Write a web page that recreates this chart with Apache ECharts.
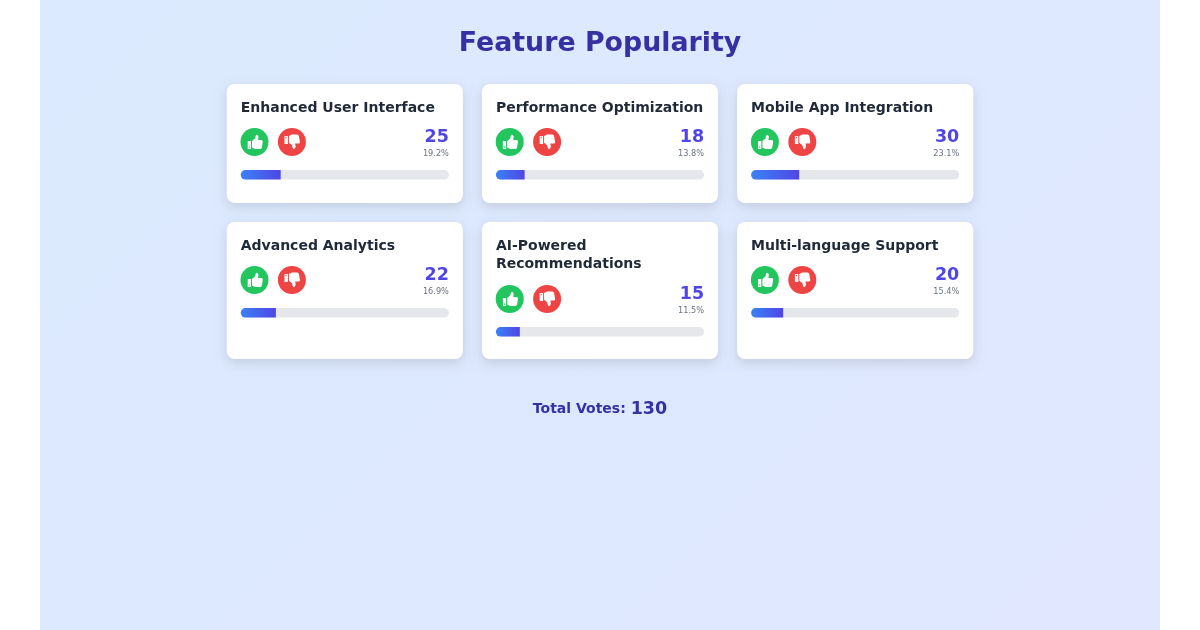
<!DOCTYPE html>
<html>
<head>
<meta charset="utf-8">
<title>Feature Popularity</title>
<script src="https://cdn.jsdelivr.net/npm/echarts@6/dist/echarts.min.js"></script>
<style>
  html, body { margin: 0; padding: 0; background: #fff; }
  #chart { width: 1200px; height: 630px; }
</style>
</head>
<body>
<div id="chart"></div>
<script>
// data
var features = ['Enhanced User Interface', 'Performance Optimization', 'Mobile App Integration',
                'Advanced Analytics', 'AI-Powered\nRecommendations', 'Multi-language Support'];
var votes = [25, 18, 30, 22, 15, 20];
var percents = [19.2, 13.8, 23.1, 16.9, 11.5, 15.4];
var totalVotes = 130;

var FONT = '"DejaVu Sans"';
var cardX = [226.7, 481.9, 737.1];
var rowY = [84, 222];
var rowH = [119, 137];
var cardW = 236.2;
var pad = 14;
var barW = 208.2;

// icon outlines, relative to the middle of the circle
var upHand = [[-2.5,-1],[0.5,-3.5],[1.2,-6.2],[2,-7.2],[3.2,-6.8],[4,-5.2],[3.5,-2],[7,-2],[8.2,-1.2],[8.2,0],[7.4,5.6],[6.6,6.8],[5.6,7],[0.5,7],[-2.5,5.4]];
var upCuff = [[-6.8,-1],[-3.6,-1],[-3.6,7],[-6.8,7]];
var downHand = [[-3,-6],[0,-7.4],[5.2,-7.4],[6.6,-6.8],[7,-6],[8,0],[7.8,1.2],[6.6,1.6],[3.2,1.6],[3.8,4.6],[3,6.6],[1.6,7.2],[0.8,6],[0.1,3.2],[-3,0.8]];
var downCuff = [[-7.4,-6],[-4,-6],[-4,2],[-7.4,2]];

function icon(cx, cy, color, hand, cuff, dotX, dotY) {
  return {
    type: 'group', x: cx, y: cy,
    children: [
      { type: 'circle', z: 5, shape: { cx: 0, cy: 0, r: 14 }, style: { fill: color } },
      { type: 'polygon', z: 6, shape: { points: hand }, style: { fill: '#fff' } },
      { type: 'polygon', z: 6, shape: { points: cuff }, style: { fill: '#fff' } },
      { type: 'rect', z: 7, shape: { x: dotX, y: dotY, width: 1.1, height: 1.2 }, style: { fill: color } }
    ]
  };
}

var graphics = [{
  type: 'rect', silent: true, z: -10,
  shape: { x: 40, y: 0, width: 1120, height: 630 },
  // same geometry as a css 135deg gradient on this box
  style: { fill: new echarts.graphic.LinearGradient(162.5, -122.5, 1037.5, 752.5, [
    { offset: 0, color: '#dbeafe' }, { offset: 1, color: '#e0e7ff' }
  ], true) }
}, {
  type: 'text', z: 5, x: 600, y: 44.5,
  style: { text: 'Feature Popularity', font: 'bold 26.8px ' + FONT, fill: '#3730a3', align: 'center', verticalAlign: 'middle' }
}, {
  type: 'text', z: 5, x: 600, y: 409,
  style: {
    text: '{a|Total Votes: }{b|' + totalVotes + '}',
    align: 'center', verticalAlign: 'middle',
    rich: {
      a: { font: 'bold 14px ' + FONT, fill: '#3730a3' },
      b: { font: 'bold 17.5px ' + FONT, fill: '#3730a3' }
    }
  }
}];
var grids = [], xAxes = [], yAxes = [], series = [];

features.forEach(function (name, i) {
  var col = i % 3, row = Math.floor(i / 3);
  var x = cardX[col], y = rowY[row];
  var extra = (name.split('\n').length - 1) * 19;
  var left = x + pad;

  graphics.push({
    type: 'rect', z: -5, silent: true,
    shape: { x: x, y: y, width: cardW, height: rowH[row], r: 8 },
    style: { fill: '#fff', shadowBlur: 12, shadowOffsetY: 4, shadowColor: 'rgba(0,0,0,0.12)' }
  });
  graphics.push({
    type: 'text', z: 5, x: left, y: y + 15.4,
    style: { text: name, font: 'bold 14px ' + FONT, lineHeight: 18.2, fill: '#1f2937', align: 'left', verticalAlign: 'top' }
  });
  graphics.push(icon(left + 13.8, y + 58 + extra, '#22c55e', upHand, upCuff, -5.8, 4.6));
  graphics.push(icon(left + 51.2, y + 58 + extra, '#ef4444', downHand, downCuff, -6.4, -5));
  graphics.push({
    type: 'text', z: 5, x: left + barW, y: y + 53.5 + extra,
    style: { text: String(votes[i]), font: 'bold 17.5px ' + FONT, fill: '#4f46e5', align: 'right', verticalAlign: 'middle' }
  });
  graphics.push({
    type: 'text', z: 5, x: left + barW, y: y + 70 + extra,
    style: { text: percents[i].toFixed(1) + '%', font: '8.2px ' + FONT, fill: '#6b7280', align: 'right', verticalAlign: 'middle' }
  });

  // one small grid per card, the progress bar goes through the axis scale
  grids.push({ left: left, top: y + 86 + extra, width: barW, height: 9.6 });
  xAxes.push({ gridIndex: i, type: 'value', min: 0, max: 100, show: false });
  yAxes.push({ gridIndex: i, type: 'category', data: [name], show: false });
  series.push({
    type: 'bar', xAxisIndex: i, yAxisIndex: i, barWidth: '100%', silent: true, z: 10,
    data: [percents[i]],
    showBackground: true,
    backgroundStyle: { color: '#e5e7eb', borderRadius: 5 },
    itemStyle: {
      borderRadius: [5, 0, 0, 5],
      color: new echarts.graphic.LinearGradient(0, 0, 1, 0, [
        { offset: 0, color: '#3b82f6' }, { offset: 1, color: '#4f46e5' }
      ])
    }
  });
});

var myChart = echarts.init(document.getElementById('chart'));
myChart.setOption({
  animation: false,
  backgroundColor: '#fff',
  tooltip: { show: false },
  graphic: { elements: graphics },
  grid: grids,
  xAxis: xAxes,
  yAxis: yAxes,
  series: series
});
</script>
</body>
</html>
